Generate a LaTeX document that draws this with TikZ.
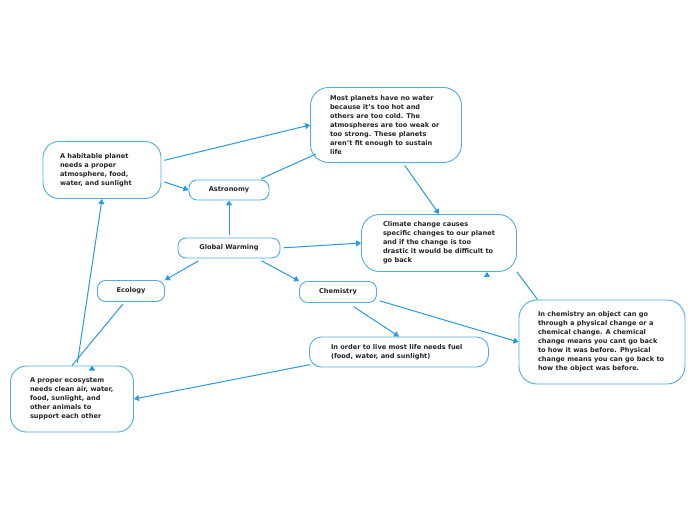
\documentclass[tikz,border=0pt]{standalone}
\usepackage{fontspec}
\setmainfont{DejaVu Sans}
\usetikzlibrary{arrows.meta}
\definecolor{ln}{HTML}{2A9AE0}
\definecolor{bd}{HTML}{4DADE8}
\begin{document}
\begin{tikzpicture}[x=1pt,y=-1pt,
 box/.style={draw=bd,line width=0.9pt,rounded corners=#1,fill=white,inner sep=0pt,font=\fontsize{6.6}{9}\selectfont\bfseries,text=black!85},
 box/.default=8pt,
 con/.style={draw=ln,line width=1pt,-{Triangle[width=6pt,length=5pt]},shorten <=3pt}]
\useasboundingbox (0,0) rectangle (696,520);
\fill[white] (0,0) rectangle (696,520);
\node[box,minimum width=102pt,minimum height=20pt] (gw) at (229,248) {Global Warming};
\node[box,minimum width=80pt,minimum height=20pt] (as) at (229,190) {Astronomy};
\node[box,minimum width=67pt,minimum height=21pt] (ec) at (131,291) {Ecology};
\node[box,minimum width=77pt,minimum height=21pt] (ch) at (338,292) {Chemistry};
\node[box=16pt,minimum width=118pt,minimum height=57pt,align=left,text width=80pt,inner sep=0pt] (hab) at (102,170) {\hspace*{-2pt}\begin{minipage}{84pt}\raggedright A habitable planet needs a proper atmosphere, food, water, and sunlight\end{minipage}};
\node[box=18pt,minimum width=151pt,minimum height=75pt] (mp) at (386,125) {\begin{minipage}{112pt}\raggedright Most planets have no water because it's too hot and others are too cold. The atmospheres are too weak or too strong. These planets aren't fit enough to sustain life\end{minipage}};
\node[box=18pt,minimum width=155pt,minimum height=57pt] (cl) at (439,243) {\begin{minipage}{112pt}\raggedright Climate change causes specific changes to our planet and if the change is too drastic it would be difficult to go back\end{minipage}};
\node[box=18pt,minimum width=166pt,minimum height=84pt] (ic) at (602,342) {\begin{minipage}{128pt}\raggedright In chemistry an object can go through a physical change or a chemical change. A chemical change means you cant go back to how it was before. Physical change means you can go back to how the object was before.\end{minipage}};
\node[box=12pt,minimum width=179pt,minimum height=30pt] (io) at (399,352) {\begin{minipage}{136pt}\raggedright In order to live most life needs fuel (food, water, and sunlight)\end{minipage}};
\node[box=16pt,minimum width=123pt,minimum height=66pt] (ap) at (72,399) {\begin{minipage}{84pt}\raggedright A proper ecosystem needs clean air, water, food, sunlight, and other animals to support each other\end{minipage}};
\draw[con] (gw.north) -- (as.south);
\draw[con] (gw.south) ++(-28,1) coordinate (g1) (g1) -- (ec.north east);
\draw[con] (gw.south) ++(30,1) coordinate (g2) (g2) -- (ch.north west);
\draw[con] (gw.east) -- (cl.west);
\draw[draw=ln,line width=1pt,shorten <=2pt] (as.north east) ++(-10,0) coordinate (a1) (a1) -- (316,154);
\draw[con] (hab.east) ++(0,-9) coordinate (h1) (h1) -- (mp.west);
\draw[con] (hab.east) ++(0,11) coordinate (h2) (h2) -- (as.west);
\draw[con] (mp.south) ++(17,0) coordinate (m1) (m1) -- (cl.north);
\draw[con] (ch.east) ++(0,8) coordinate (c1) (c1) -- (ic.west);
\draw[con] (ch.south) ++(13,2) coordinate (c2) (c2) -- (io.north);
\draw[con] (ic.north west) ++(19,0) coordinate (i1) (i1) -- (cl.south east) ++(-30,0);
\draw[con] (io.west) ++(4,12) coordinate (o1) (o1) -- (ap.east);
\draw[con] (ec.south) ++(-8,2) coordinate (e1) (e1) -- (ap.north) ++(20,0);
\draw[con] (ap.north) ++(5,0) coordinate (p1) (p1) -- (hab.south);
\end{tikzpicture}
\end{document}
